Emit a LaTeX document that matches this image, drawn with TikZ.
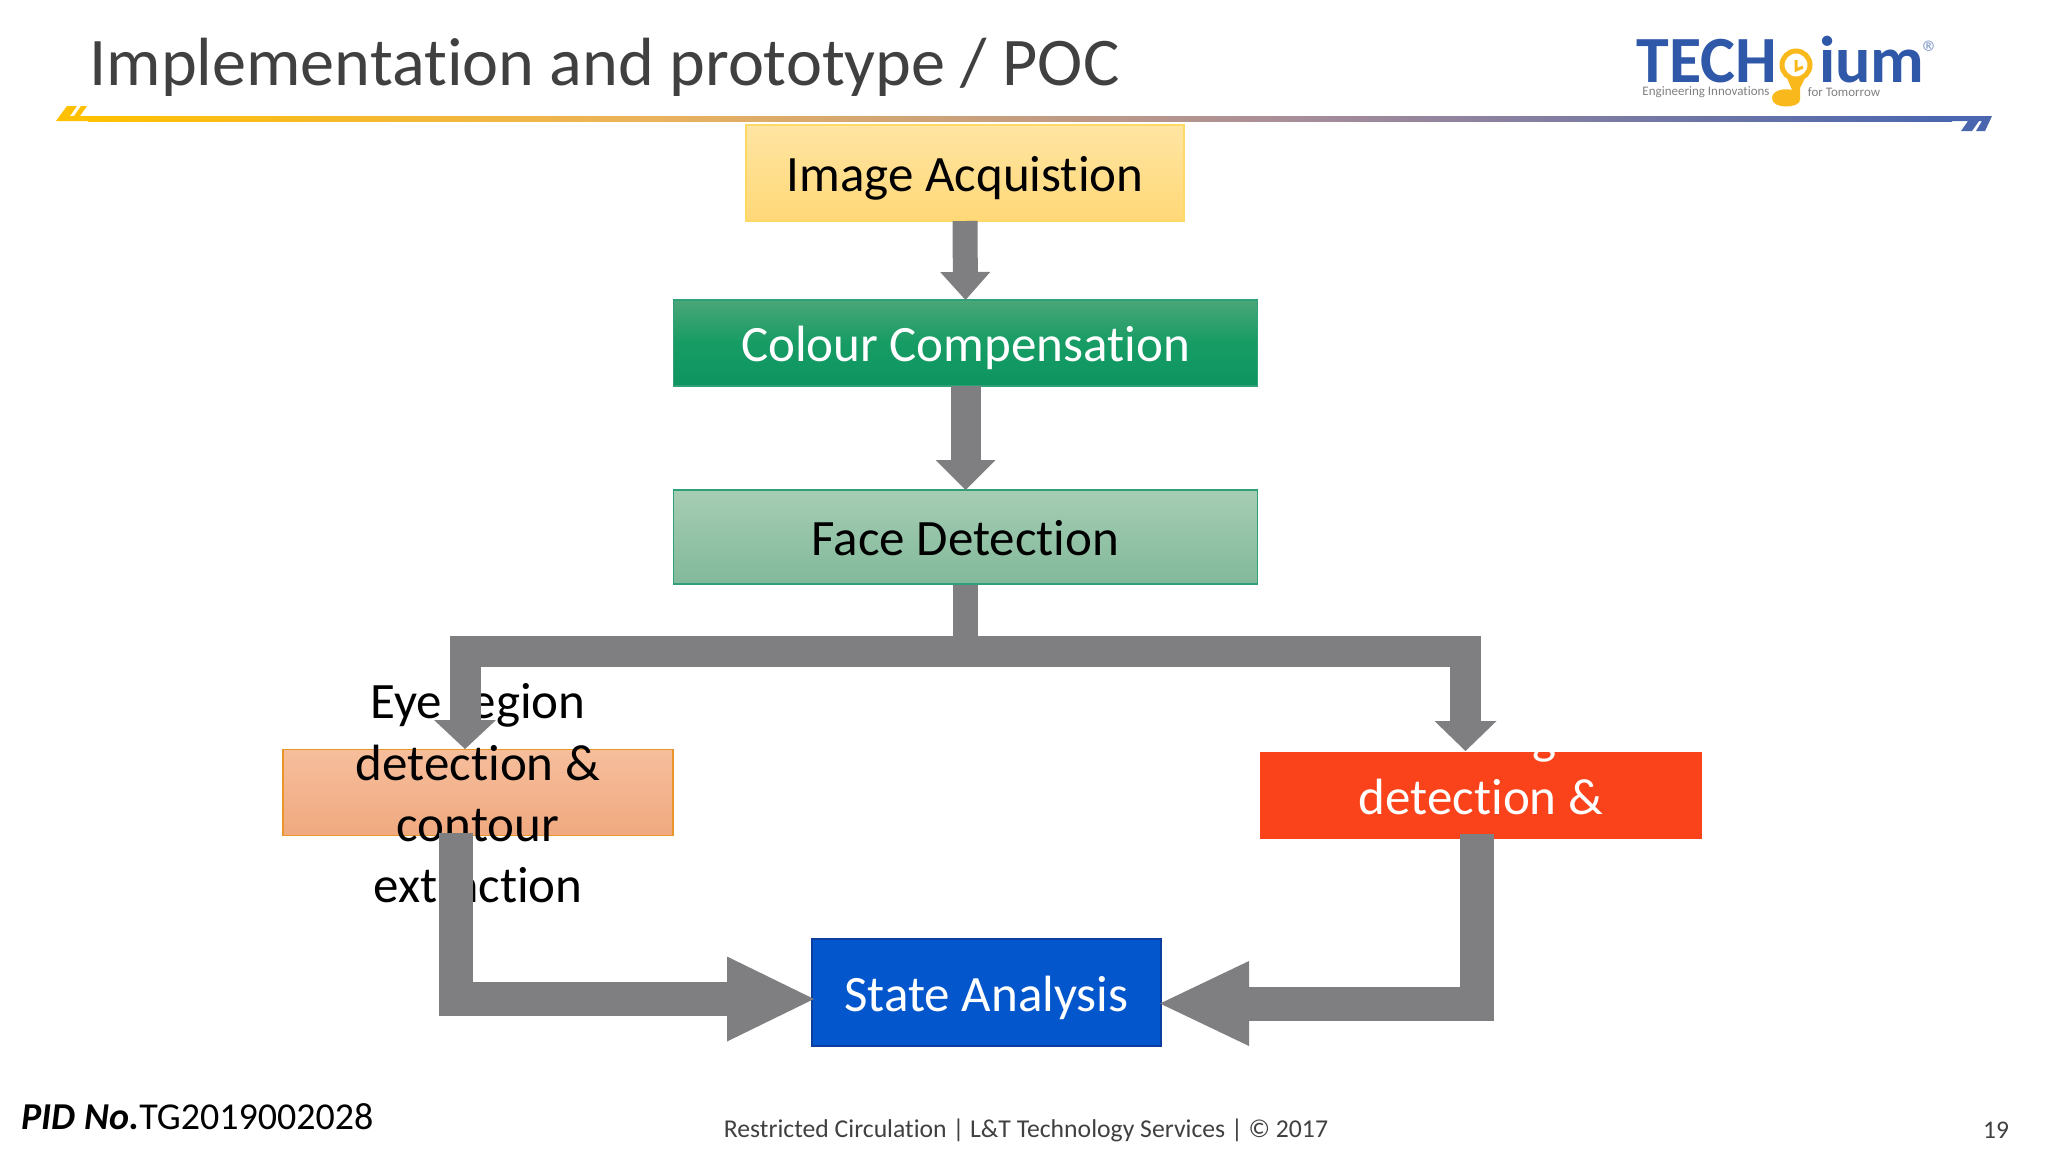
\documentclass[tikz,border=0pt]{standalone}
\usepackage{fontspec}
\setmainfont{Carlito}[Ligatures={TeX,NoCommon}]
\usetikzlibrary{arrows.meta}
\definecolor{arrowgray}{HTML}{7F7F81}
\definecolor{titlegray}{HTML}{404040}
\definecolor{logoblue}{HTML}{3058A8}
\definecolor{logoyellow}{HTML}{F9B91D}
\definecolor{rulegold}{HTML}{FFC000}
\definecolor{ruletan}{HTML}{E9B25E}
\definecolor{rulemauve}{HTML}{A98E98}
\definecolor{ruleblue}{HTML}{4A66AE}
\definecolor{boxgreen}{HTML}{2FA077}
\definecolor{imgtop}{HTML}{FFE5A3}
\definecolor{imgbot}{HTML}{FFD877}
\definecolor{coltop}{HTML}{4AA678}
\definecolor{colmid}{HTML}{169C64}
\definecolor{colbot}{HTML}{0E9460}
\definecolor{facetop}{HTML}{A6CDB4}
\definecolor{facebot}{HTML}{82B99A}
\definecolor{eyeedge}{HTML}{E8962A}
\definecolor{eyetop}{HTML}{F6BE9C}
\definecolor{eyebot}{HTML}{F0A97F}
\definecolor{mouthred}{HTML}{FA431B}
\definecolor{stateedge}{HTML}{0A3FA0}
\definecolor{stateblue}{HTML}{0456CC}
\tikzset{
  flowbox/.style={draw, line width=0.6pt, inner sep=0pt, outer sep=0pt, align=center,
    text height=18.5pt, text depth=0pt, font=\fontsize{25.5}{30.7}\selectfont},
  grayarrow/.style n args={3}{draw=arrowgray, line width=#1, line join=miter,
    -{Triangle[length=#2,width=#3,line width=0pt]}},
}
\begin{document}
\begin{tikzpicture}[x=0.5pt,y=-0.5pt]
\useasboundingbox (0,0) rectangle (2048,1152);

\node (title) at (89,85) [anchor=base west,inner sep=0pt,text=titlegray,font=\fontsize{34.1}{40}\selectfont] {Implementation and prototype / POC};

% rule below the title
\fill[rulegold] (56,121) -- (67,106) -- (77,106) -- (70,116) -- (74,116) -- (81,106) -- (87,106) -- (80,116) -- (90,116) -- (90,121) -- cycle;
\fill[ruleblue] (1992,116) -- (1985,131) -- (1976,131) -- (1982,121) -- (1979,121) -- (1972,131) -- (1961,131) -- (1968,121) -- (1950,121) -- (1950,116) -- cycle;
\shade[left color=rulegold,right color=ruletan] (88,116) rectangle (660,121);
\shade[left color=ruletan,right color=rulemauve] (660,116) rectangle (1280,121);
\shade[left color=rulemauve,right color=ruleblue] (1280,116) rectangle (1952,121);

% logo
\node (logoa) at (1636,82) [anchor=base west,inner sep=0pt,text=logoblue,font=\fontsize{33}{33}\bfseries\selectfont] {TECH};
\node (logob) at (1925,82) [anchor=base east,inner sep=0pt,text=logoblue,font=\fontsize{33}{33}\bfseries\selectfont] {ium};
\draw[logoyellow,line width=2.5pt] (1796,65) circle (14);
\draw[logoyellow,line width=1.5pt] (1796,60) -- (1796,70) -- (1803,67);
\fill[logoyellow] (1787,78) -- (1805,78) -- (1800,88) -- (1800,100) .. controls (1800,108) and (1772,110) .. (1772,98) .. controls (1772,90) and (1785,88) .. (1792,90) -- cycle;
\node (logor) at (1931,53) [text=logoblue!60,inner sep=0pt,font=\fontsize{17}{17}\selectfont] {®};
\node (logoc) at (1706,92) [text=gray,inner sep=0pt,font=\fontsize{6.5}{6.5}\selectfont] {Engineering Innovations};
\node (logod) at (1844,92) [text=gray,inner sep=0pt,font=\fontsize{6.5}{6.5}\selectfont] {for Tomorrow};

% flow boxes
\node (imgacq) at (965,173) [flowbox,minimum width=219pt,minimum height=48pt,draw=rulegold!60,top color=imgtop,bottom color=imgbot] {Image Acquistion};
\node (colcomp) at (965.5,343) [flowbox,minimum width=292pt,minimum height=43pt,draw=boxgreen,top color=coltop,bottom color=colbot,middle color=colmid,text=white] {Colour Compensation};
\node (facedet) at (965.5,537) [flowbox,minimum width=292pt,minimum height=47pt,draw=boxgreen,top color=facetop,bottom color=facebot] {Face Detection};

\node (eyebox) at (478,792.5) [flowbox,minimum width=195pt,minimum height=43pt,draw=eyeedge,top color=eyetop,bottom color=eyebot] {};
\node (eyetext) at (478,798.5) {\fontsize{25.5}{30.7}\selectfont\begin{tabular}{@{}c@{}}Eye region\\detection \&\\contour\\extraction\end{tabular}};

\node (mouthbox) at (1481,795.5) [flowbox,minimum width=221pt,minimum height=43.5pt,draw=none,fill=mouthred,text=white] {detection \&};
\node (mouthg) at (1544,745) [text=white,inner sep=0pt,font=\fontsize{25.5}{30.7}\selectfont] {g};

\node (state) at (986.5,992.5) [flowbox,minimum width=174.5pt,minimum height=53.5pt,draw=stateedge,fill=stateblue,text=white] {State Analysis};

% block arrows
\coordinate (split) at (965,585);
\coordinate (bar) at (965,651.5);
\coordinate (eyein) at (465,749);
\coordinate (mouthin) at (1465.5,751);
\coordinate (eyeout) at (456,833);
\coordinate (mouthout) at (1477,834);
\coordinate (stateinl) at (814,999);
\coordinate (stateinr) at (1160,1003.5);

\draw[grayarrow={12.5pt}{14pt}{25pt}] (imgacq.south) -- (colcomp.north);
\draw[grayarrow={15pt}{15pt}{30pt}] (colcomp.south) -- (facedet.north);
\draw[draw=arrowgray,line width=12.5pt] (split) -- (bar);
\draw[grayarrow={15.5pt}{14.5pt}{31pt}] (bar) -| (eyein);
\draw[grayarrow={15.5pt}{15pt}{31pt}] (bar) -| (mouthin);
\draw[grayarrow={17pt}{43.5pt}{42.5pt}] (eyeout) |- (stateinl);
\draw[grayarrow={17pt}{44.5pt}{42.5pt}] (mouthout) |- (stateinr);

% footer
\node (pid) at (21,1129) [anchor=base west,inner sep=0pt,font=\fontsize{19}{19}\selectfont] {\textbf{\textit{PID No.}}TG2019002028};
\node (foot) at (1026,1130) [inner sep=0pt,text=titlegray,font=\fontsize{12.85}{12.85}\selectfont] {Restricted Circulation | L\&T Technology Services | © 2017};
\node (pageno) at (1996,1130) [inner sep=0pt,text=titlegray,font=\fontsize{12.7}{12.7}\selectfont] {19};
\end{tikzpicture}
\end{document}
